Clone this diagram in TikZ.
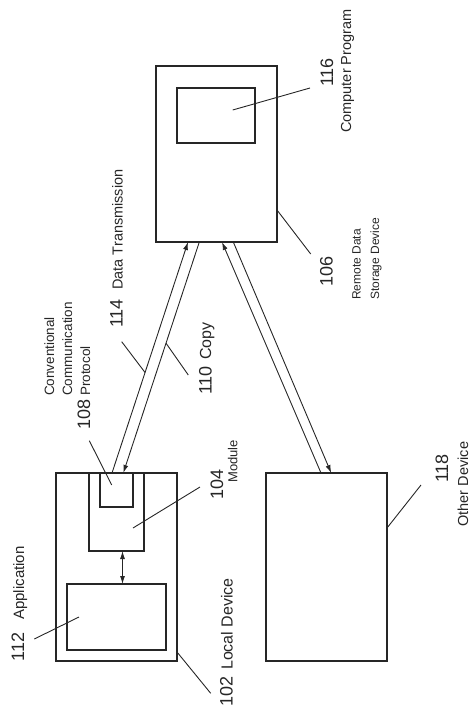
\documentclass[tikz,border=0pt]{standalone}
\usepackage{fontspec}
\setmainfont{Liberation Sans}
\usetikzlibrary{arrows.meta}
\tikzset{
	box/.style={draw, line width=1.2pt, inner sep=0pt, outer sep=0pt, anchor=north west},
	lead/.style={line width=0.9pt},
	arr/.style={line width=0.9pt, -{Latex[length=8pt,width=5pt]}},
	lbl/.style={rotate=90, anchor=base west, inner sep=0pt, font=\fontsize{#1}{#1}\selectfont},
	num/.style={lbl=18}
}

\begin{document}
\begin{tikzpicture}[x=1pt, y=-1pt, black!85]
	\useasboundingbox (0,0) rectangle (474,712);
% Boxes
	\node[box, minimum width=121pt, minimum height=188pt] (local) at (56,473) {};
	\node[box, minimum width=55pt, minimum height=78pt] (module) at (89,473) {};
	\node[box, minimum width=33pt, minimum height=34pt] (proto) at (100,473) {};
	\node[box, minimum width=99pt, minimum height=66pt] (app) at (67,584) {};
	\node[box, minimum width=121pt, minimum height=176pt] (remote) at (156,66) {};
	\node[box, minimum width=78pt, minimum height=55pt] (prog) at (177,88) {};
	\node[box, minimum width=121pt, minimum height=188pt] (other) at (266,473) {};
% Arrows
	\draw[arr] ([xshift=-4.5pt]proto.north) -- coordinate[pos=0.435] (onA) ([xshift=-28.5pt]remote.south);
	\draw[arr] ([xshift=-17.2pt]remote.south) -- coordinate[pos=0.438] (onB) ([xshift=6.8pt]proto.north);
	\draw[arr] ([xshift=-5.5pt]other.north) -- ([xshift=5.5pt]remote.south);
	\draw[arr] ([xshift=16.8pt]remote.south) -- ([xshift=4.7pt]other.north);
	\draw[line width=0.9pt, {Latex[length=8pt,width=5pt]}-{Latex[length=8pt,width=5pt]}]
		([xshift=6pt]module.south) -- ([xshift=6pt]app.north);
% Leader ends
	\coordinate (t116) at (310,88);
	\coordinate (t106) at (310.7,254);
	\coordinate (t114) at (121.7,341.7);
	\coordinate (t110) at (188.3,375);
	\coordinate (t108) at (89.3,440.7);
	\coordinate (t104) at (200,487);
	\coordinate (t112) at (34.3,639);
	\coordinate (t102) at (210.7,693.3);
	\coordinate (t118) at (421,485);
% Leaders
	\draw[lead] ([shift={(16.7,-5.5)}]prog.center) -- (t116);
	\draw[lead] ([shift={(0,56)}]remote.east) -- (t106);
	\draw[lead] (onA) -- (t114);
	\draw[lead] (onB) -- (t110);
	\draw[lead] ([shift={(-4.8,-5)}]proto.center) -- (t108);
	\draw[lead] ([shift={(16.5,16)}]module.center) -- (t104);
	\draw[lead] ([shift={(-37.5,0)}]app.center) -- (t112);
	\draw[lead] ([shift={(0,-9)}]local.south east) -- (t102);
	\draw[lead] ([shift={(0,-39)}]other.east) -- (t118);
% Labels
	\node[num] (n112) at (24,661.7) {112};
	\node[lbl=15] (l112) at (24,620) {Application};
	\node[num] (n102) at (232.5,707) {102};
	\node[lbl=16] (l102) at (232.5,670) {Local Device};
	\node[num] (n104) at (223,500) {104};
	\node[lbl=13] (l104) at (237.3,483) {Module};
	\node[num] (n108) at (90,430) {108};
	\node[lbl=13.5] (l108a) at (54,396) {Conventional};
	\node[lbl=13.5] (l108b) at (72,396) {Communication};
	\node[lbl=13.5] (l108c) at (90,396) {Protocol};
	\node[num] (n114) at (122.5,328) {114};
	\node[lbl=14.5] (l114) at (122.5,290) {Data Transmission};
	\node[num] (n110) at (211.5,395) {110};
	\node[lbl=16] (l110) at (211,360) {Copy};
	\node[num] (n106) at (332.5,287) {106};
	\node[lbl=12] (l106a) at (360.5,300) {Remote Data};
	\node[lbl=12] (l106b) at (379,300) {Storage Device};
	\node[num] (n116) at (333,87) {116};
	\node[lbl=14.5] (l116) at (351,133) {Computer Program};
	\node[num] (n118) at (448,483) {118};
	\node[lbl=14.5] (l118) at (468,526.7) {Other Device};
\end{tikzpicture}
\end{document}
